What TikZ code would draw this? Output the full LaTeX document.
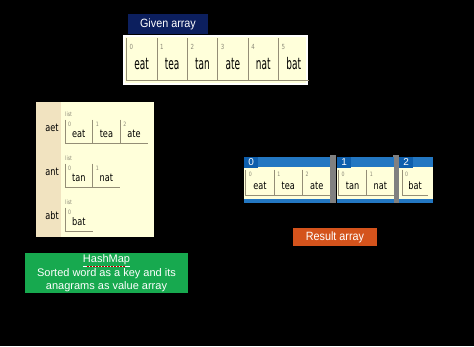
\documentclass[tikz,border=0pt]{standalone}
\usepackage{fontspec}
\setmainfont{Liberation Sans}
\newfontfamily\bigcellfont[FakeStretch=0.56]{DejaVu Sans}
\newfontfamily\cellfont[FakeStretch=0.78]{DejaVu Sans}
\newfontfamily\titlefont[FakeStretch=0.9]{Liberation Sans}
\usepackage{tikz}
\usetikzlibrary{positioning}
\definecolor{navybox}{HTML}{0C1F5E}
\definecolor{paleyellow}{HTML}{FFFFDA}
\definecolor{keybeige}{HTML}{F1E3C0}
\definecolor{linegray}{HTML}{948E76}
\definecolor{idxgray}{HTML}{8C8A78}
\definecolor{hdrblue}{HTML}{2377C2}
\definecolor{numblue}{HTML}{0E5FAD}
\definecolor{sepgray}{HTML}{808080}
\definecolor{orangebox}{HTML}{D4531C}
\definecolor{greenbox}{HTML}{17A94F}

\begin{document}
\begin{tikzpicture}[x=1pt, y=-1pt,
  titlebox/.style={inner sep=0pt, text=white, font=\titlefont\fontsize{12}{14}\selectfont},
  gcell/.style={minimum width=30pt, inner sep=0pt, text height=31.3pt, text depth=10.7pt, font=\bigcellfont\fontsize{16}{18}\selectfont},
  hcell/.style={minimum width=27.2pt, inner sep=0pt, text height=18pt, text depth=5.5pt, font=\cellfont\fontsize{10.5}{12}\selectfont},
  rcell/.style={minimum width=28pt, inner sep=0pt, text height=19.5pt, text depth=6pt, font=\cellfont\fontsize{10.5}{12}\selectfont},
  idx/.style={anchor=north west, inner sep=0pt, xshift=3pt, yshift=-2.5pt, text height=4.5pt, text depth=0pt, text=idxgray, font=\cellfont\fontsize{6}{7}\selectfont},
  gidx/.style={idx, yshift=-4pt, font=\cellfont\fontsize{7}{8}\selectfont},
  cellline/.style={draw=linegray, line width=0.8pt},
  listtag/.style={anchor=west, inner sep=0pt, text=idxgray, font=\cellfont\fontsize{6}{7}\selectfont},
  keytag/.style={anchor=base, inner sep=0pt, font=\cellfont\fontsize{10.5}{12}\selectfont},
  hdrnum/.style={anchor=north west, fill=numblue, inner sep=0pt, minimum width=14pt, minimum height=10.3pt, text=white, font=\fontsize{10}{12}\selectfont},
  rgroup/.style={fill=hdrblue, inner sep=0pt, minimum height=46pt},
  rbody/.style={fill=paleyellow, inner sep=0pt, minimum height=31.2pt},
  sepbar/.style={fill=sepgray, inner sep=0pt, minimum width=6pt, minimum height=48pt}]
\fill[black] (0,0) rectangle (474,346);
% given array
\node[titlebox, fill=navybox, minimum width=80pt, minimum height=20pt] (gtitle) at (168,24) {Given array};
\node[draw=white, line width=2.5pt, fill=paleyellow, minimum width=183pt, minimum height=48pt, inner sep=0pt] (gframe) at (215.5,60) {};
\node[gcell, anchor=north west, label={[gidx]north west:0}] (g0) at (126.5,38) {eat};
\node[gcell, right=0pt of g0, label={[gidx]north west:1}] (g1) {tea};
\node[gcell, right=0pt of g1, label={[gidx]north west:2}] (g2) {tan};
\node[gcell, right=0pt of g2, label={[gidx]north west:3}] (g3) {ate};
\node[gcell, right=0pt of g3, label={[gidx]north west:4}] (g4) {nat};
\node[gcell, right=0pt of g4, label={[gidx]north west:5}] (g5) {bat};
\draw[cellline] (g0.north west) |- (g5.south east);
\draw[cellline] (g1.north west) -- (g1.south west);
\draw[cellline] (g2.north west) -- (g2.south west);
\draw[cellline] (g3.north west) -- (g3.south west);
\draw[cellline] (g4.north west) -- (g4.south west);
\draw[cellline] (g5.north west) -- (g5.south west);
% hashmap
\node[fill=paleyellow, minimum width=118pt, minimum height=135pt, inner sep=0pt] (hmap) at (95,169.5) {};
\node[fill=keybeige, minimum width=25pt, minimum height=135pt, inner sep=0pt] (hkeys) at (48.5,169.5) {};
\node[keytag] (k0) at (52,131) {aet};
\node[keytag] (k1) at (52,175) {ant};
\node[keytag] (k2) at (52,219) {abt};
\node[listtag] (l0) at (65,114) {list};
\node[listtag] (l1) at (65,158) {list};
\node[listtag] (l2) at (65,202) {list};
\node[hcell, anchor=north west, label={[idx]north west:0}] (a0) at (65,119.5) {eat};
\node[hcell, right=0pt of a0, label={[idx]north west:1}] (a1) {tea};
\node[hcell, right=0pt of a1, label={[idx]north west:2}] (a2) {ate};
\node[hcell, anchor=north west, label={[idx]north west:0}] (n0) at (65,163.5) {tan};
\node[hcell, right=0pt of n0, label={[idx]north west:1}] (n1) {nat};
\node[hcell, anchor=north west, label={[idx]north west:0}] (b0) at (65,207.5) {bat};
\draw[cellline] (a0.north west) |- (a2.south east);
\draw[cellline] (a1.north west) -- (a1.south west);
\draw[cellline] (a2.north west) -- (a2.south west);
\draw[cellline] (n0.north west) |- (n1.south east);
\draw[cellline] (n1.north west) -- (n1.south west);
\draw[cellline] (b0.north west) |- (b0.south east);
\node[titlebox, fill=greenbox, minimum width=163pt, minimum height=40pt, align=center, font=\fontsize{11}{12.5}\selectfont] (htitle) at (106.5,273) {\underline{HashMap}\\[1.5pt]Sorted word as a key and its\\anagrams as value array};
\draw[red!75!black, densely dotted, line width=0.5pt] ([xshift=-20pt, yshift=-13.5pt]htitle.north) -- ([xshift=18pt, yshift=-13.5pt]htitle.north);
% result array
\node[sepbar] (s0) at (332.7,179) {};
\node[sepbar] (s1) at (396,179) {};
\node[rgroup, minimum width=85.7pt] (rg0) at (286.85,180) {};
\node[rgroup, minimum width=57pt] (rg1) at (365.5,180) {};
\node[rgroup, minimum width=34pt] (rg2) at (416,180) {};
\node[rbody, minimum width=85.7pt] (rb0) at (286.85,182.9) {};
\node[rbody, minimum width=57pt] (rb1) at (365.5,182.9) {};
\node[rbody, minimum width=34pt] (rb2) at (416,182.9) {};
\node[hdrnum] (h0) at (244,157) {0};
\node[hdrnum] (h1) at (337,157) {1};
\node[hdrnum] (h2) at (399,157) {2};
\node[rcell, anchor=north west, label={[idx]north west:0}] (r0) at (245.7,169.5) {eat};
\node[rcell, right=0pt of r0, label={[idx]north west:1}] (r1) {tea};
\node[rcell, right=0pt of r1, label={[idx]north west:2}] (r2) {ate};
\node[rcell, anchor=north west, label={[idx]north west:0}] (r3) at (338.3,169.5) {tan};
\node[rcell, minimum width=27pt, right=0pt of r3, label={[idx]north west:1}] (r4) {nat};
\node[rcell, minimum width=26pt, anchor=north west, label={[idx]north west:0}] (r5) at (402,169.5) {bat};
\draw[cellline] (r0.north west) |- (r2.south east);
\draw[cellline] (r1.north west) -- (r1.south west);
\draw[cellline] (r2.north west) -- (r2.south west);
\draw[cellline] (r3.north west) |- (r4.south east);
\draw[cellline] (r4.north west) -- (r4.south west);
\draw[cellline] (r5.north west) |- (r5.south east);
\node[titlebox, fill=orangebox, minimum width=84pt, minimum height=18pt] (rtitle) at (335,237) {Result array};
\end{tikzpicture}
\end{document}
